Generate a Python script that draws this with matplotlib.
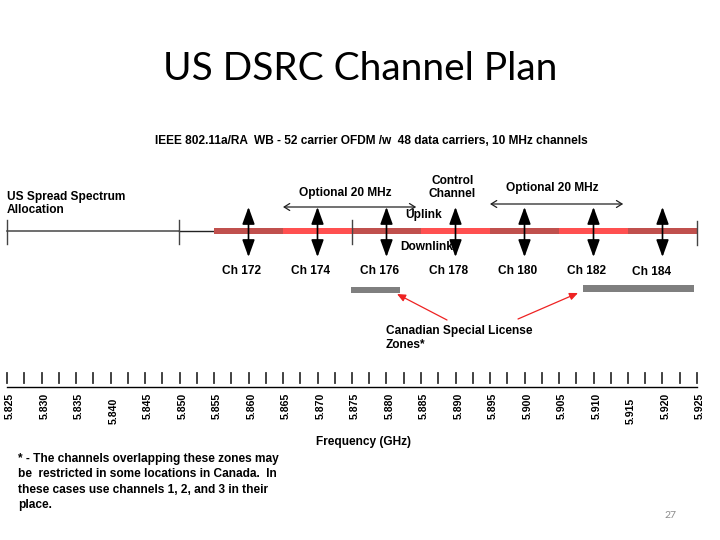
import matplotlib
matplotlib.use("Agg")
import matplotlib.pyplot as plt
from matplotlib.patches import FancyArrowPatch, ArrowStyle

# ---------------- data ----------------
channels = [172, 174, 176, 178, 180, 182, 184]
channel_centers = [5.860, 5.870, 5.880, 5.890, 5.900, 5.910, 5.920]   # GHz
channel_width = 0.010                                                  # GHz
channel_colors = ["#c0504d", "#ff5050", "#c0504d", "#ff5050", "#c0504d", "#ff5050", "#c0504d"]
spread_spectrum = (5.825, 5.850)
guard_band = (5.850, 5.855)
canadian_zones = [(5.8748, 5.8820), (5.9085, 5.9245)]
optional_20mhz = [(5.8650, 5.8843), (5.8950, 5.9143)]
freq_ticks = [5.825 + 0.0025 * i for i in range(41)]
freq_labels = ["5.825", "5.830", "5.835", "5.840", "5.845", "5.850", "5.855", "5.860",
               "5.865", "5.870", "5.875", "5.880", "5.885", "5.890", "5.895", "5.900",
               "5.905", "5.910", "5.915", "5.920", "5.925"]
label_freqs = [5.825 + 0.005 * i for i in range(21)]
dropped_labels = ["5.840", "5.915"]

# ---------------- figure ----------------
fig = plt.figure(figsize=(7.2, 5.4), dpi=100)
ax = fig.add_axes([0, 0, 1, 1])
PX = 6900.0  # pixels per GHz
ax.set_xlim(5.825 - 7 / PX, 5.825 + 713 / PX)
ax.set_ylim(540, 0)
ax.axis("off")

def px(n):
    return n / PX

FS = 8.6
B = dict(family="Liberation Sans", weight="bold", color="black")

# Title
fig.text(0.5, 1 - 80 / 540, "US DSRC Channel Plan", ha="center", va="baseline",
         family="Lato", fontsize=28, color="black")
ax.text(5.825 + px(364), 141, "IEEE 802.11a/RA  WB - 52 carrier OFDM /w  48 data carriers, 10 MHz channels",
        ha="center", va="center", fontsize=FS, **B)

# Spread spectrum line + guard
Y = 231
ax.plot(spread_spectrum, [Y, Y], color="#555555", lw=1.2)
ax.plot(guard_band, [Y, Y], color="#222222", lw=1.0)
for f in [5.825, 5.850]:
    ax.plot([f, f], [220, 244], color="#444444", lw=1.0)

# Channel band
lefts = [c - channel_width / 2 for c in channel_centers]
ax.barh([Y] * len(channels), [channel_width] * len(channels), left=lefts, height=6,
        color=channel_colors, edgecolor="none", zorder=2)
ax.plot([5.875, 5.875], [220, 244], color="#444444", lw=1.0, zorder=3)
ax.plot([5.925, 5.925], [221, 245], color="#444444", lw=1.0, zorder=3)

# Vertical up/down arrows and channel labels
vstyle = ArrowStyle("<|-|>", head_length=10.5, head_width=3.8)
for ch, c in zip(channels, channel_centers):
    a = FancyArrowPatch((c, 207), (c, 257), arrowstyle=vstyle, mutation_scale=1,
                        color="black", lw=1.2, shrinkA=0, shrinkB=0, zorder=4)
    ax.add_patch(a)
    dy = 272 if ch == 184 else 271
    off = -11 if ch == 184 else -7
    ax.text(c + px(off), dy, f"Ch {ch}", ha="center", va="center", fontsize=FS, **B)

# Optional 20 MHz arrows
hstyle = ArrowStyle("<->", head_length=4, head_width=2.5)
opt_y = [207, 204]
opt_label_y = [193, 188]
for (a0, a1), yy, ly in zip(optional_20mhz, opt_y, opt_label_y):
    ar = FancyArrowPatch((a0, yy), (a1, yy), arrowstyle=hstyle, mutation_scale=1,
                         color="#222222", lw=0.9, shrinkA=0, shrinkB=0, zorder=4)
    ax.add_patch(ar)
    ax.text((a0 + a1) / 2 - px(4), ly, "Optional 20 MHz", ha="center", va="center",
            fontsize=FS, **B)

ax.text(5.890 - px(3), 187.5, "Control\nChannel", ha="center", va="center", fontsize=FS,
        linespacing=1.2, **B)
ax.text(5.825, 203.5, "US Spread Spectrum\nAllocation", ha="left", va="center", fontsize=FS,
        linespacing=1.2, **B)
ax.text(5.825 + px(398), 215, "Uplink", ha="left", va="center", fontsize=FS, zorder=5, **B)
ax.text(5.825 + px(393), 247, "Downlink", ha="left", va="center", fontsize=FS, zorder=3, **B)

# Canadian zones
zone_y = [290, 288.5]
for (z0, z1), zy in zip(canadian_zones, zone_y):
    ax.barh([zy], [z1 - z0], left=[z0], height=6.5, color="#7f7f7f", edgecolor="none")

ax.text(5.825 + px(379), 338, "Canadian Special License\nZones*", ha="left", va="center",
        fontsize=FS, linespacing=1.3, **B)
rstyle = ArrowStyle("-|>", head_length=5, head_width=2.2)
for start, end in [((5.825 + px(440), 320), (5.825 + px(390), 294)),
                   ((5.825 + px(511), 319), (5.825 + px(571), 293))]:
    ax.add_patch(FancyArrowPatch(start, end, arrowstyle=rstyle, mutation_scale=1,
                                 color="#ee2222", lw=0.9, shrinkA=0, shrinkB=0))

# Frequency axis
ax.plot([5.825, 5.925], [387, 387], color="black", lw=1.0)
for f in freq_ticks:
    ax.plot([f, f], [373, 383], color="#333333", lw=1.3)
for f, lab in zip(label_freqs, freq_labels):
    top = 398 if lab in dropped_labels else 393
    ax.text(f + px(3), top, lab, rotation=90, ha="center", va="top", fontsize=7.6, **B)

ax.text(5.825 + px(356), 442, "Frequency (GHz)", ha="center", va="center", fontsize=FS, **B)

ax.text(5.825 + px(11), 482, "* - The channels overlapping these zones may\n"
        "be  restricted in some locations in Canada.  In\n"
        "these cases use channels 1, 2, and 3 in their\nplace.",
        ha="left", va="center", fontsize=FS, linespacing=1.37, **B)

fig.text(670 / 720, 1 - 515.5 / 540, "27", ha="center", va="center", family="Lato",
         fontsize=7.5, color="#8c8c8c")

fig.savefig("out.png", dpi=100)
